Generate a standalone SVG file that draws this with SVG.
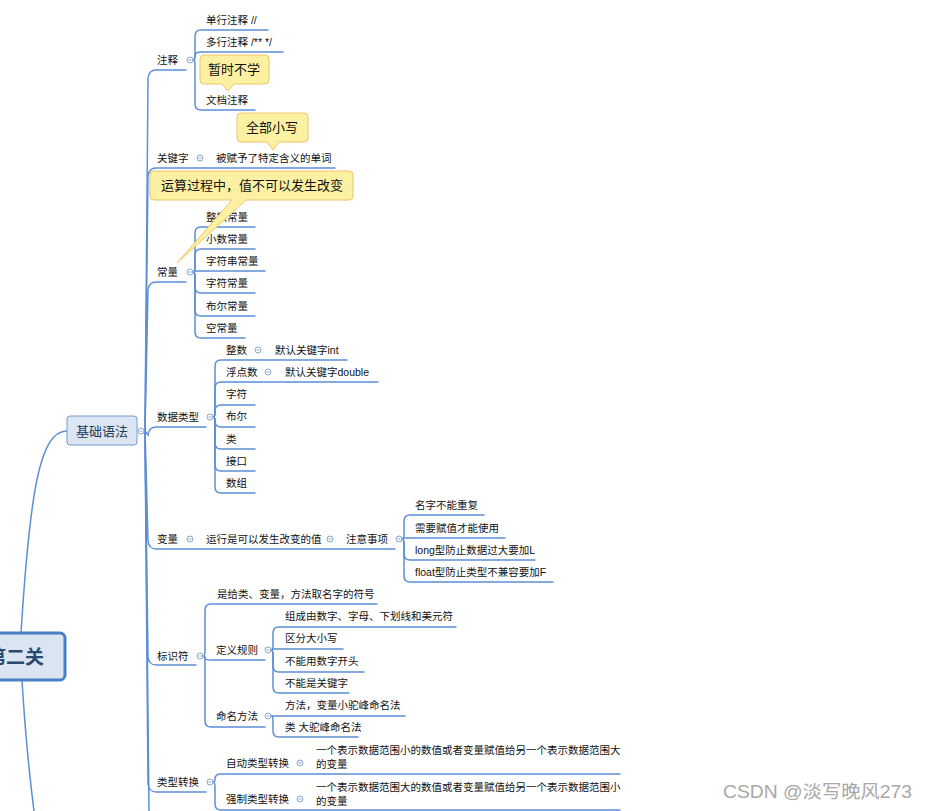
<svg xmlns="http://www.w3.org/2000/svg" width="927" height="811" viewBox="0 0 927 811">
<style>
.c{fill:none;stroke:#5d8fd6;stroke-width:1.5;stroke-linecap:round}
.t{font-family:"Liberation Sans","Noto Sans CJK SC",sans-serif;font-size:10.5px;fill:#111;dominant-baseline:central}
.k{fill:#fff;stroke:#8aa6cc;stroke-width:1}
.km{stroke:#8aa6cc;stroke-width:1}
.cb{fill:#fcf0a3;stroke:#efc469;stroke-width:1}
.ct{font-family:"Liberation Sans","Noto Sans CJK SC",sans-serif;font-size:13px;fill:#111;dominant-baseline:central;text-anchor:middle}
</style>
<defs>
<g id="knob"><circle r="3" class="k"/><line x1="-1.6" y1="0" x2="1.6" y2="0" class="km"/></g>
</defs>
<rect width="927" height="811" fill="#fff"/>

<g id="connectors">
<path class="c" d="M21,633 C30,490 40,431 67,431"/>
<path class="c" d="M22,680 C25,730 30,780 34,811"/>
<path class="c" d="M145,431 L148,78 Q149,70 156,70 H186"/>
<path class="c" d="M145,431 L148,176 Q149,168 156,168 H335"/>
<path class="c" d="M145,431 L148,290 Q149,282 156,282 H186"/>
<path class="c" d="M145,431 L148,435 Q149,427 156,427 H206"/>
<path class="c" d="M145,431 L148,541 Q149,549 156,549 H395"/>
<path class="c" d="M145,431 L148,657 Q149,665 156,665 H196"/>
<path class="c" d="M145,431 L148,784 Q149,792 156,792 H206"/>
<path class="c" d="M145,431 L149,811"/>
<path class="c" d="M193,60 Q195,60 195,55 V36 Q195,30 201,30 H268"/>
<path class="c" d="M193,60 Q195,60 195,56 Q195,52 201,52 H283"/>
<path class="c" d="M193,60 Q195,60 195,65 V104 Q195,110 201,110 H255"/>
<path class="c" d="M193,272 Q195,272 195,267 V233 Q195,227 201,227 H255"/>
<path class="c" d="M193,272 Q195,272 195,267 V255 Q195,249 201,249 H255"/>
<path class="c" d="M193,272 Q195,272 195,271 Q195,271 201,271 H265"/>
<path class="c" d="M193,272 Q195,272 195,277 V287 Q195,293 201,293 H255"/>
<path class="c" d="M193,272 Q195,272 195,277 V310 Q195,316 201,316 H255"/>
<path class="c" d="M193,272 Q195,272 195,277 V332 Q195,338 201,338 H245"/>
<path class="c" d="M213,417 Q215,417 215,412 V366 Q215,360 221,360 H347"/>
<path class="c" d="M213,417 Q215,417 215,412 V388 Q215,382 221,382 H378"/>
<path class="c" d="M213,417 Q215,417 215,412 V411 Q215,405 221,405 H255"/>
<path class="c" d="M213,417 Q215,417 215,421 Q215,427 221,427 H255"/>
<path class="c" d="M213,417 Q215,417 215,422 V443 Q215,449 221,449 H255"/>
<path class="c" d="M213,417 Q215,417 215,422 V465 Q215,471 221,471 H255"/>
<path class="c" d="M213,417 Q215,417 215,422 V487 Q215,493 221,493 H255"/>
<path class="c" d="M402,539 Q404,539 404,534 V521 Q404,515 410,515 H484"/>
<path class="c" d="M402,539 Q404,539 404,538 Q404,538 410,538 H505"/>
<path class="c" d="M402,539 Q404,539 404,544 V554 Q404,560 410,560 H535"/>
<path class="c" d="M402,539 Q404,539 404,544 V576 Q404,582 410,582 H553"/>
<path class="c" d="M203,656 Q205,656 205,651 V610 Q205,604 211,604 H377"/>
<path class="c" d="M203,656 Q205,656 205,658 Q205,660 211,660 H265"/>
<path class="c" d="M203,656 Q205,656 205,661 V721 Q205,727 211,727 H265"/>
<path class="c" d="M271,650 Q273,650 273,645 V633 Q273,627 279,627 H456"/>
<path class="c" d="M271,650 Q273,650 273,649 Q273,649 279,649 H343"/>
<path class="c" d="M271,650 Q273,650 273,655 V666 Q273,672 279,672 H364"/>
<path class="c" d="M271,650 Q273,650 273,655 V687 Q273,693 279,693 H349"/>
<path class="c" d="M271,716 H405"/>
<path class="c" d="M271,716 Q273,716 273,721 V731 Q273,737 279,737 H358"/>
<path class="c" d="M213,782 Q215,782 215,779 Q215,774 221,774 H620"/>
<path class="c" d="M213,782 Q215,782 215,787 V804 Q215,810 221,810 H620"/>
</g>

<g id="root">
<rect x="-30" y="633" width="95" height="47" rx="5" fill="#dbe5f1" stroke="#4a7fc4" stroke-width="3"/>
<text x="44" y="657" text-anchor="end" font-family="Liberation Sans,'Noto Sans CJK SC',sans-serif" font-size="19" font-weight="bold" fill="#2a4a70" dominant-baseline="central">第二关</text>
</g>

<g id="jichu">
<rect x="67" y="416" width="70" height="29" rx="3" fill="#dce6f2" stroke="#6f9bd1" stroke-width="1"/>
<text x="102" y="431" text-anchor="middle" font-family="Liberation Sans,'Noto Sans CJK SC',sans-serif" font-size="13" fill="#1f3b60" dominant-baseline="central">基础语法</text>
<use href="#knob" x="141" y="431"/>
</g>

<g id="zhushi"><text class="t" x="157" y="60">注释</text><use href="#knob" x="190" y="60"/></g>
<g id="danhang"><text class="t" x="206" y="20">单行注释  //</text></g>
<g id="duohang"><text class="t" x="206" y="42">多行注释 /** */</text></g>
<g id="wendang"><text class="t" x="206" y="100">文档注释</text></g>

<g id="guanjianzi"><text class="t" x="157" y="158">关键字</text><use href="#knob" x="200" y="158"/></g>
<g id="beifu"><text class="t" x="216" y="158">被赋予了特定含义的单词</text></g>

<g id="changliang"><text class="t" x="157" y="272">常量</text><use href="#knob" x="190" y="272"/></g>
<g id="cl1"><text class="t" x="206" y="217">整数常量</text></g>
<g id="cl2"><text class="t" x="206" y="239">小数常量</text></g>
<g id="cl3"><text class="t" x="206" y="261">字符串常量</text></g>
<g id="cl4"><text class="t" x="206" y="283">字符常量</text></g>
<g id="cl5"><text class="t" x="206" y="306">布尔常量</text></g>
<g id="cl6"><text class="t" x="206" y="328">空常量</text></g>

<g id="shujuleixing"><text class="t" x="157" y="417">数据类型</text><use href="#knob" x="210" y="417"/></g>
<g id="zhengshu"><text class="t" x="226" y="350">整数</text><use href="#knob" x="258" y="350"/></g>
<g id="int"><text class="t" x="275" y="350">默认关键字int</text></g>
<g id="fudian"><text class="t" x="226" y="372">浮点数</text><use href="#knob" x="268" y="372"/></g>
<g id="double"><text class="t" x="285" y="372">默认关键字double</text></g>
<g id="zifu"><text class="t" x="226" y="394">字符</text></g>
<g id="buer"><text class="t" x="226" y="416">布尔</text></g>
<g id="lei"><text class="t" x="226" y="439">类</text></g>
<g id="jiekou"><text class="t" x="226" y="461">接口</text></g>
<g id="shuzu"><text class="t" x="226" y="483">数组</text></g>

<g id="bianliang"><text class="t" x="157" y="539">变量</text><use href="#knob" x="190" y="539"/></g>
<g id="yunxing"><text class="t" x="206" y="539">运行是可以发生改变的值</text><use href="#knob" x="330" y="539"/></g>
<g id="zhuyi"><text class="t" x="346" y="539">注意事项</text><use href="#knob" x="399" y="539"/></g>
<g id="zy1"><text class="t" x="415" y="505">名字不能重复</text></g>
<g id="zy2"><text class="t" x="415" y="528">需要赋值才能使用</text></g>
<g id="zy3"><text class="t" x="415" y="550">long型防止数据过大要加L</text></g>
<g id="zy4"><text class="t" x="415" y="572">float型防止类型不兼容要加F</text></g>

<g id="biaoshifu"><text class="t" x="157" y="656">标识符</text><use href="#knob" x="200" y="656"/></g>
<g id="shigei"><text class="t" x="217" y="594">是给类、变量，方法取名字的符号</text></g>
<g id="dingyi"><text class="t" x="216" y="650">定义规则</text><use href="#knob" x="268" y="650"/></g>
<g id="dy1"><text class="t" x="285" y="616">组成由数字、字母、下划线和美元符</text></g>
<g id="dy2"><text class="t" x="285" y="638">区分大小写</text></g>
<g id="dy3"><text class="t" x="285" y="661">不能用数字开头</text></g>
<g id="dy4"><text class="t" x="285" y="683">不能是关键字</text></g>
<g id="mingming"><text class="t" x="216" y="716">命名方法</text><use href="#knob" x="268" y="716"/></g>
<g id="mm1"><text class="t" x="285" y="705">方法，变量小驼峰命名法</text></g>
<g id="mm2"><text class="t" x="285" y="727">类 大驼峰命名法</text></g>

<g id="leixingzhuanhuan"><text class="t" x="157" y="782">类型转换</text><use href="#knob" x="210" y="782"/></g>
<g id="zidong"><text class="t" x="226" y="763">自动类型转换</text><use href="#knob" x="300" y="763"/></g>
<g id="zidong-desc"><text class="t" x="316" y="750">一个表示数据范围小的数值或者变量赋值给另一个表示数据范围大</text><text class="t" x="316" y="764">的变量</text></g>
<g id="qiangzhi"><text class="t" x="226" y="799">强制类型转换</text><use href="#knob" x="300" y="799"/></g>
<g id="qiangzhi-desc"><text class="t" x="316" y="787">一个表示数据范围大的数值或者变量赋值给另一个表示数据范围小</text><text class="t" x="316" y="801">的变量</text></g>

<g id="callout-zanshi">
<path class="cb" d="M204,55 H265 Q269,55 269,59 V80 Q269,84 265,84 H234 L228,91 L222,84 H204 Q200,84 200,80 V59 Q200,55 204,55 Z"/>
<text class="ct" x="234" y="69">暂时不学</text>
</g>
<g id="callout-quanbu">
<path class="cb" d="M241,113 H304 Q308,113 308,117 V138 Q308,142 304,142 H279 L273,150 L267,142 H241 Q237,142 237,138 V117 Q237,113 241,113 Z"/>
<text class="ct" x="272" y="127">全部小写</text>
</g>
<g id="callout-yunsuan">
<path class="cb" d="M154,171 H349 Q353,171 353,175 V196 Q353,200 349,200 H246 L177,263 L232,200 H154 Q150,200 150,196 V175 Q150,171 154,171 Z"/>
<text class="ct" x="252" y="185">运算过程中，值不可以发生改变</text>
</g>

<text x="723" y="792" font-family="Liberation Sans,'Noto Sans CJK SC',sans-serif" font-size="18" fill="#a8a8a8" dominant-baseline="central" textLength="189" lengthAdjust="spacingAndGlyphs">CSDN @淡写晚风273</text>
</svg>
